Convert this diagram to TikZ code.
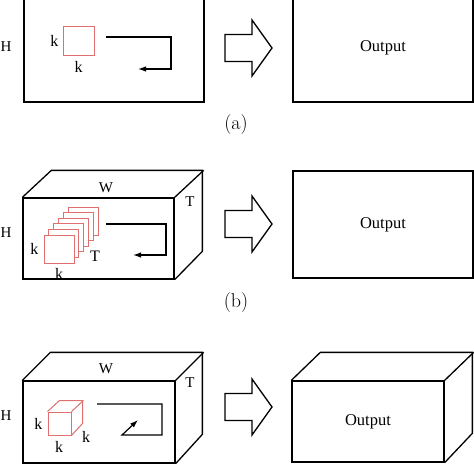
\documentclass[tikz,border=0pt]{standalone}
\usepackage{fontspec}
\newfontfamily\tms{Liberation Serif}
\usetikzlibrary{arrows.meta,positioning,calc}
\definecolor{kernred}{RGB}{222,112,112}
\tikzset{
    frame/.style={rectangle, draw, line width=1.3pt, fill=white, inner sep=0pt,
                  font=\tms\fontsize{16.5}{18}\selectfont},
    kern/.style={rectangle, draw=kernred, line width=1pt, fill=white, inner sep=0pt},
    edge3d/.style={line width=1.3pt, line join=miter},
    dim/.style={inner sep=0pt, font=\tms\fontsize{16}{18}\selectfont},
    side/.style={inner sep=0pt, font=\tms\fontsize{15}{17}\selectfont},
    scan/.style={-{Latex[length=8pt,width=5.5pt]}, line width=1.2pt},
    sub/.style={font=\fontsize{20}{22}\selectfont},
    fatarrow/.pic={
        \draw[line width=1.3pt, line join=miter]
            (0,-13.5) -- (27,-13.5) -- (27,-28) -- (47,0) -- (27,28) -- (27,13.5) -- (0,13.5) -- cycle;
    },
}

\begin{document}
\begin{tikzpicture}[x=1pt, y=-1pt]
    \useasboundingbox (0,0) rectangle (474,474);

    % (a) 2D convolution
    \node[frame, minimum width=180pt, minimum height=108pt] (inA)  at (114,48) {};
    \node[frame, minimum width=180pt, minimum height=108pt] (outA) at (383,48) {Output};
    \node[side] (hA) at (6,47) {H};
    \node[kern, minimum width=31pt, minimum height=29pt] (kA) at (78.5,40.5) {};
    \node[dim, left=4pt of kA]  (kAl) {k};
    \node[dim, below=6pt of kA] (kAb) {k};
    \coordinate (sA) at (106,37);
    \coordinate (eA) at (138,69);
    \draw[scan] (sA) -- ++(65,0) |- (eA);
    \pic at (225,48) {fatarrow};
    \node[sub] (capA) at (236,125) {(a)};

    % (b) 2D convolution on multiple frames
    \node[frame, minimum width=151pt, minimum height=81pt] (inB) at (98.5,238.5) {};
    \draw[edge3d] (inB.north west) -- ++(29,-27) -- ++(151,0) -- ++(0,81) -- (inB.south east);
    \draw[edge3d] (inB.north east) -- ++(29,-27);
    \node[side] (wB) at (106,188) {W};
    \node[side] (tB) at (190,202) {T};
    \node[side] (hB) at (6,233) {H};
    \foreach \i in {5,...,0}
        \node[kern, minimum width=30pt, minimum height=28pt] (kB\i) at ({59+4.8*\i},{249-5.6*\i}) {};
    \node[dim, left=5pt of kB0]  (kBl) {k};
    \node[dim, below=5pt of kB0] (kBb) {k};
    \node[dim] (kBt) at (95,256) {T};
    \coordinate (sB) at (106,224);
    \coordinate (eB) at (133,255);
    \draw[scan] (sB) -- ++(60,0) |- (eB);
    \pic at (225,224) {fatarrow};
    \node[frame, minimum width=180pt, minimum height=107pt] (outB) at (383,224.5) {Output};
    \node[sub] (capB) at (236,303) {(b)};

    % (c) 3D convolution
    \node[frame, minimum width=152pt, minimum height=82pt] (inC) at (99,422) {};
    \draw[edge3d] (inC.north west) -- ++(28,-28) -- ++(152,0) -- ++(0,82) -- (inC.south east);
    \draw[edge3d] (inC.north east) -- ++(28,-28);
    \node[side] (wC) at (106,369) {W};
    \node[side] (tC) at (190,383) {T};
    \node[side] (hC) at (6,416) {H};
    \node[kern, minimum width=23pt, minimum height=23pt] (kC) at (59.5,423.5) {};
    \draw[kernred, line width=1pt, line join=miter]
        (kC.north west) -- ++(12,-11) -- ++(23,0) -- ++(0,23) -- (kC.south east);
    \draw[kernred, line width=1pt] (kC.north east) -- ++(12,-11);
    \node[dim, left=5pt of kC]  (kCl) {k};
    \node[dim] (kCb) at (59,447) {k};
    \node[dim] (kCr) at (86,437) {k};
    \coordinate (sC) at (97,404);
    \coordinate (mC) at (122,435);
    \coordinate (eC) at (138,420);
    \draw[scan] (sC) -- ++(65,0) |- (mC) -- (eC);
    \pic at (225,407) {fatarrow};
    \node[frame, minimum width=152pt, minimum height=81pt] (outC) at (368,421.5) {Output};
    \draw[edge3d] (outC.north west) -- ++(29,-28) -- ++(152,0) -- ++(0,81) -- (outC.south east);
    \draw[edge3d] (outC.north east) -- ++(29,-28);
\end{tikzpicture}
\end{document}
